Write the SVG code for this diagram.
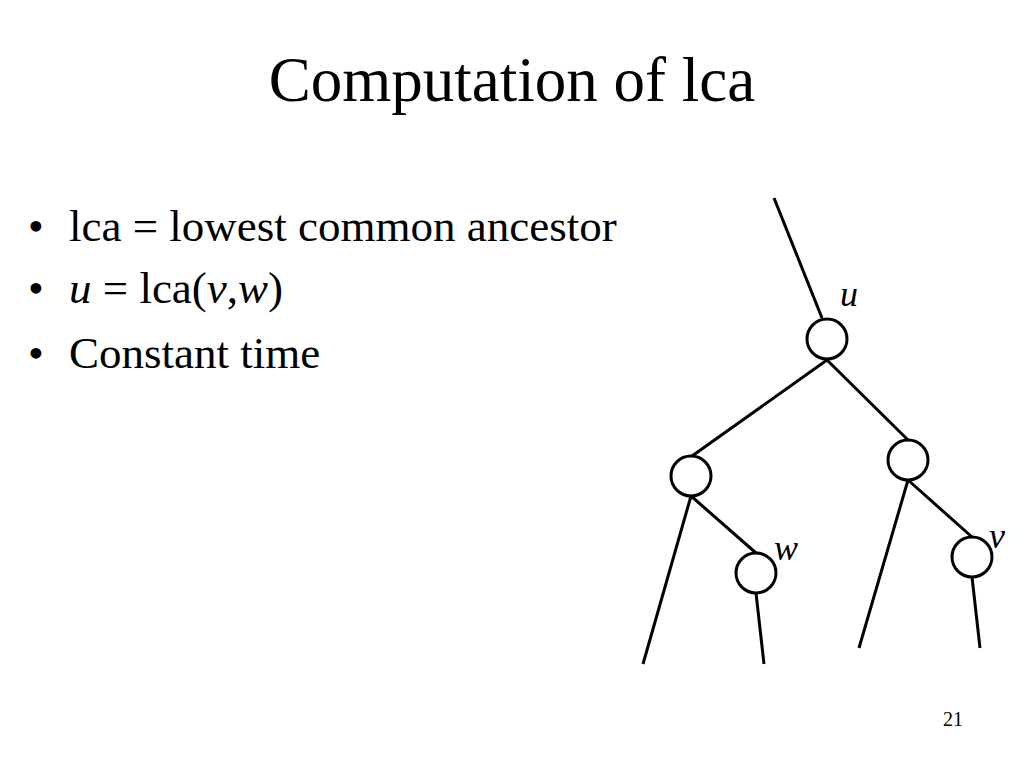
<svg xmlns="http://www.w3.org/2000/svg" width="1024" height="768" viewBox="0 0 1024 768">
<style>
.t{font-family:"Liberation Serif","Times New Roman",serif;fill:#000}
.i{font-style:italic}
.n{fill:#fff;stroke:#000;stroke-width:3}
.e{stroke:#000;stroke-width:3;fill:none;stroke-linecap:butt}
</style>
<rect width="1024" height="768" fill="#fff"/>
<text class="t" x="512" y="101" font-size="63" text-anchor="middle">Computation of lca</text>
<g id="bullets" class="t" font-size="45">
<text x="28" y="241">•</text><text x="69" y="241">lca = lowest common ancestor</text>
<text x="28" y="303">•</text><text x="69" y="303"><tspan class="i">u</tspan> = lca(<tspan class="i">v</tspan>,<tspan class="i">w</tspan>)</text>
<text x="28" y="368">•</text><text x="69" y="368">Constant time</text>
</g>
<g id="edges">
<line class="e" x1="774" y1="198" x2="822" y2="318"/>
<line class="e" x1="827" y1="360" x2="692" y2="456"/>
<line class="e" x1="827" y1="360" x2="908" y2="440"/>
<line class="e" x1="691" y1="496" x2="643" y2="664"/>
<line class="e" x1="691" y1="496" x2="756" y2="553"/>
<line class="e" x1="756" y1="593" x2="764" y2="664"/>
<line class="e" x1="908" y1="480" x2="859" y2="648"/>
<line class="e" x1="908" y1="480" x2="972" y2="537"/>
<line class="e" x1="972" y1="577" x2="980" y2="648"/>
</g>
<g id="node-u"><circle class="n" cx="827" cy="339" r="20"/><text class="t i" x="840" y="306" font-size="36">u</text></g>
<g id="node-a"><circle class="n" cx="691" cy="476" r="20"/></g>
<g id="node-b"><circle class="n" cx="908" cy="460" r="20"/></g>
<g id="node-w"><circle class="n" cx="756" cy="573" r="20"/><text class="t i" x="774" y="560" font-size="36">w</text></g>
<g id="node-v"><circle class="n" cx="972" cy="557" r="20"/><text class="t i" x="989" y="548" font-size="36">v</text></g>
<text class="t" x="943" y="726" font-size="20">21</text>
</svg>
